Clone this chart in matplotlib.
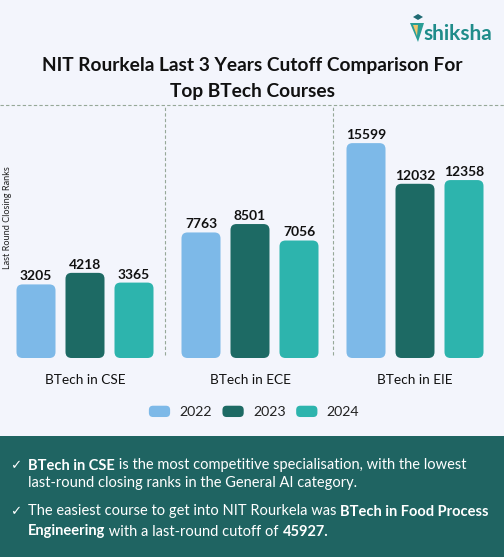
import matplotlib
matplotlib.use("Agg")
import matplotlib.pyplot as plt
from matplotlib.patches import FancyBboxPatch, Rectangle, Polygon
from matplotlib.legend_handler import HandlerPatch
import numpy as np

categories = ["BTech in CSE", "BTech in ECE", "BTech in EIE"]
years = ["2022", "2023", "2024"]
values = {
    "2022": [3205, 7763, 15599],
    "2023": [4218, 8501, 12032],
    "2024": [3365, 7056, 12358],
}
colors = ["#7DB9E8", "#1D6A64", "#2DB4AD"]
title_lines = ["NIT Rourkela Last 3 Years Cutoff Comparison For", "Top BTech Courses"]
ylabel = "Last Round Closing Ranks"

BG = "#F3F5FC"
BOX = "#1F6462"
W, H = 504, 557
FONT = ["Lato", "DejaVu Sans"]
plt.rcParams["font.family"] = FONT

fig = plt.figure(figsize=(W / 100, H / 100), dpi=100, facecolor=BG)


def fy(px):
    return 1 - px / H


# axes: baseline at y=358px, top at y=105px
base_px, top_px = 358, 105
ax = fig.add_axes([0, fy(base_px), 1, (base_px - top_px) / H])
ax.set_facecolor("none")
px_per_unit_y = 0.0114
floor = -3250
ax.set_ylim(floor, floor + (base_px - top_px) / px_per_unit_y)
gsp = 165.0
ax.set_xlim(-85 / gsp, (W - 85) / gsp)
for s in ax.spines.values():
    s.set_visible(False)
ax.set_xticks([])
ax.set_yticks([])

x = np.arange(len(categories))
step = 49 / gsp
bw = 39 / gsp
r_px = 6
rx = r_px / gsp
aspect = (1 / px_per_unit_y) * gsp  # y-units per x-unit at equal pixel size

for i, yr in enumerate(years):
    vals = np.array(values[yr])
    bars = ax.bar(x + (i - 1) * step, vals - floor, bottom=floor, width=bw, color=colors[i])
    for b, v in zip(bars, vals):
        bx, by, bwid, bh = b.get_x(), b.get_y(), b.get_width(), b.get_height()
        b.remove()
        fp = FancyBboxPatch((bx, by), bwid, bh,
                            boxstyle=f"round,pad=0,rounding_size={rx}",
                            mutation_aspect=aspect, facecolor=colors[i],
                            edgecolor="none")
        ax.add_patch(fp)
        ax.annotate(f"{v}", (bx + bwid / 2, v), xytext=(0, 1.5),
                    textcoords="offset points", ha="center", va="bottom",
                    fontsize=10, fontweight="bold", color="#111111")

for i, c in enumerate(categories):
    ax.text(x[i], -0.087, c, transform=ax.get_xaxis_transform(),
            ha="center", va="center", fontsize=9.8, color="#111111")

# dashed separators
gc = "#96A898"
for xv in [0.485, 1.503]:
    ax.axvline(xv, ymin=0.01, ymax=1, color=gc, lw=0.8, ls=(0, (3, 2)))
fig.add_artist(plt.Line2D([0, 1], [fy(top_px), fy(top_px)], color=gc, lw=0.8,
                          ls=(0, (3, 2))))

# y label
fig.text(8 / W, fy(218), ylabel, rotation=90, ha="center", va="center",
         fontsize=6.6, color="#222222")

# title
fig.text(252 / W, fy(66), title_lines[0], ha="center", va="center",
         fontsize=13.8, fontweight="bold", color="#111111")
fig.text(252 / W, fy(92), title_lines[1], ha="center", va="center",
         fontsize=13.8, fontweight="bold", color="#111111")


# legend
class RoundHandler(HandlerPatch):
    def create_artists(self, legend, orig_handle, xdescent, ydescent, width,
                       height, fontsize, trans):
        p = FancyBboxPatch((-xdescent, -ydescent), width, height,
                           boxstyle="round,pad=0,rounding_size=3",
                           facecolor=orig_handle.get_facecolor(),
                           edgecolor="none", transform=trans)
        return [p]


handles = [Rectangle((0, 0), 1, 1, facecolor=c) for c in colors]
fig.legend(handles, years, loc="center", bbox_to_anchor=(254 / W, fy(412)),
           ncol=3, frameon=False, fontsize=10.2, handlelength=1.5,
           handleheight=0.85, handletextpad=0.65, columnspacing=0.75,
           handler_map={Rectangle: RoundHandler()}, labelcolor="#222222")

# bottom box
fig.add_artist(Rectangle((0, 0), 1, fy(436), transform=fig.transFigure,
                         facecolor=BOX, edgecolor="none"))

FS = 10.5


def chain(x0, ybase, parts, fs=FS):
    last = None
    for txt, bold in parts:
        kw = dict(fontsize=fs, color="white",
                  fontweight="bold" if bold else "normal", ha="left", va="bottom")
        if last is None:
            last = fig.text(x0 / W, fy(ybase + 3.5), txt, **kw)
        else:
            a = plt.Annotation(txt, xy=(1, 0), xycoords=last, xytext=(0, 0),
                               textcoords="offset points", **kw)
            fig.add_artist(a)
            last = a


for yb in (469, 515):
    fig.text(11 / W, fy(yb), "\u2713", fontsize=9.6, color="white", va="baseline",
             family=["DejaVu Sans"])
chain(28, 469, [("BTech in CSE", True),
                (" is the most competitive specialisation, with the lowest", False)])
chain(28, 487, [("last-round closing ranks in the General AI category.", False)])
chain(28, 515, [("The easiest course to get into NIT Rourkela was ", False),
                ("BTech in Food Process", True)])
chain(28, 535, [("Engineering", True), (" with a last-round cutoff of ", False),
                ("45927.", True)])

# logo
fig.text(423 / W, fy(34), "shiksha", fontsize=15, color="#1F8C8A",
         va="center", ha="left", fontweight="bold")
fig.add_artist(Polygon([[410 / W, fy(23)], [424 / W, fy(23)], [418 / W, fy(42)]],
                       closed=True, transform=fig.transFigure,
                       facecolor="#2A9E96", edgecolor="none"))
fig.add_artist(Polygon([[413 / W, fy(25)], [418 / W, fy(25)], [417 / W, fy(36)]],
                       closed=True, transform=fig.transFigure,
                       facecolor="#F2C46B", edgecolor="none"))
fig.add_artist(Polygon([[413 / W, fy(17)], [418 / W, fy(14)], [423 / W, fy(17)], [418 / W, fy(20)]],
                       closed=True, transform=fig.transFigure,
                       facecolor="#1F6A73", edgecolor="none"))

fig.savefig("out.png", dpi=100, facecolor=BG)
